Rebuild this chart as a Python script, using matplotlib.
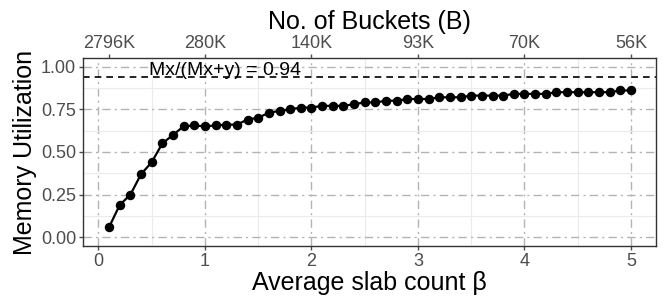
import matplotlib
matplotlib.use('Agg')
from matplotlib import pyplot as plt
from matplotlib.ticker import MultipleLocator

plt.rcParams['font.family'] = ['Liberation Sans', 'DejaVu Sans']

# average slab count beta and memory utilization
beta = [round(0.1 * i, 1) for i in range(1, 51)]
utilization = [0.06, 0.19, 0.25, 0.37, 0.44, 0.55, 0.60, 0.65, 0.655, 0.65,
               0.655, 0.66, 0.66, 0.69, 0.70, 0.73, 0.74, 0.75, 0.76, 0.76,
               0.77, 0.77, 0.77, 0.78, 0.79, 0.79, 0.80, 0.80, 0.81, 0.81,
               0.81, 0.82, 0.82, 0.82, 0.83, 0.83, 0.83, 0.83, 0.84, 0.84,
               0.84, 0.84, 0.85, 0.85, 0.85, 0.85, 0.85, 0.85, 0.86, 0.86]

# top axis: number of buckets
bucket_pos = [0.1, 1, 2, 3, 4, 5]
bucket_labels = ['2796K', '280K', '140K', '93K', '70K', '56K']

ideal = 0.94
ideal_text = 'Mx/(Mx+y) = 0.94'

fig = plt.figure(figsize=(6.64, 3.07), dpi=100)
ax = fig.add_axes([0.125, 0.199, 0.863, 0.612])

ax.set_xlim(-0.145, 5.235)
ax.set_ylim(-0.05, 1.05)
ax.xaxis.set_major_locator(MultipleLocator(1))
ax.xaxis.set_minor_locator(MultipleLocator(0.5))
ax.yaxis.set_major_locator(MultipleLocator(0.25))
ax.yaxis.set_minor_locator(MultipleLocator(0.125))
ax.yaxis.set_major_formatter(plt.FuncFormatter(lambda v, p: '%.2f' % v))

ax.grid(which='minor', color='#ebebeb', linewidth=0.8, linestyle='-')
ax.grid(which='major', color='#b3b3b3', linewidth=1.0, linestyle=(0, (6, 3, 1.5, 3)))
ax.set_axisbelow(True)

ax.axhline(ideal, color='black', linestyle=(0, (4, 3)), linewidth=1.2)
ax.text(1.19, ideal + 0.035, ideal_text, ha='center', va='center', fontsize=14, color='black')

ax.plot(beta, utilization, color='black', linewidth=1.6, marker='o', markersize=5.8)

for s in ax.spines.values():
    s.set_color('#333333')
    s.set_linewidth(1.0)
ax.tick_params(which='major', colors='#4d4d4d', labelsize=13, length=3, width=1.0)
ax.tick_params(which='minor', length=0)
ax.tick_params(axis='x', pad=2)
ax.tick_params(axis='y', pad=2)
ax.set_xlabel('Average slab count β', fontsize=18, labelpad=1)
ax.set_ylabel('Memory Utilization', fontsize=18, labelpad=3)

top = ax.twiny()
top.set_xlim(ax.get_xlim())
top.set_xticks(bucket_pos)
top.set_xticklabels(bucket_labels)
top.tick_params(colors='#4d4d4d', labelsize=13, length=3, width=1.0, pad=1)
for s in top.spines.values():
    s.set_visible(False)
top.set_xlabel('No. of Buckets (B)', fontsize=18, labelpad=5)

fig.savefig('out.png', dpi=100)
